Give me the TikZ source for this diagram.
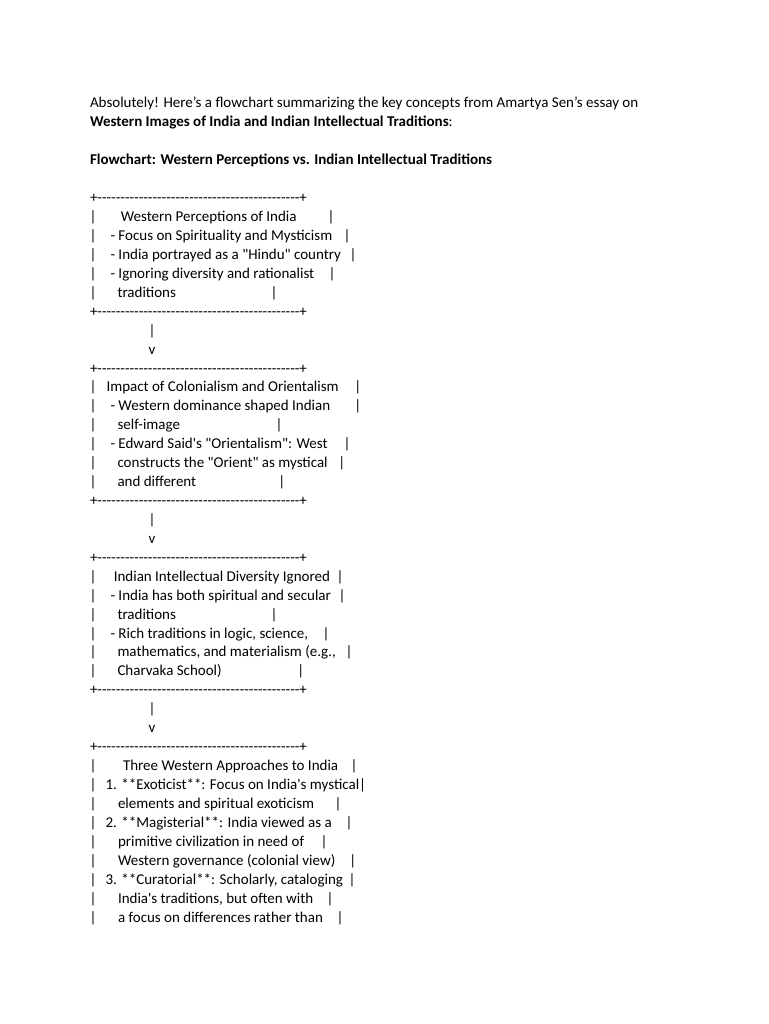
\documentclass[tikz,border=0pt]{standalone}
\usepackage{fontspec}
\setmainfont{Carlito}[Ligatures=TeXOff]
\newcounter{nn}
\tikzset{
  txt/.style={anchor=base west, inner sep=0pt, outer sep=0pt, text=black, font=\fontsize{15}{18}\selectfont},
  bar/.style={anchor=base, inner sep=0pt, outer sep=0pt, text=black, font=\fontsize{15}{18}\selectfont}
}
\newcommand\Tx[3]{\stepcounter{nn}\node[txt] (n\arabic{nn}) at (#2pt,{-108pt-18.93pt*#1}) {#3};}
\newcommand\Br[2]{\stepcounter{nn}\node[bar] (n\arabic{nn}) at (#2pt,{-108pt-18.93pt*#1}) {|};}
\newcommand\Vv[2]{\stepcounter{nn}\node[bar] (n\arabic{nn}) at (#2pt,{-108pt-18.93pt*#1}) {v};}
\newcommand\Bd[1]{\Tx{#1}{90}{+--------------------------------------------+}}
\newcommand\Ln[4]{\Br{#1}{93}\Tx{#1}{#2}{#3}\Br{#1}{#4}}
\begin{document}
\begin{tikzpicture}
\fill[white] (0,0) rectangle (768pt,-1024pt);
\useasboundingbox (0,0) rectangle (768pt,-1024pt);
\Tx{0}{90}{Absolutely! Here’s a flowchart summarizing the key concepts from Amartya Sen’s essay on}
\Tx{1}{90}{\textbf{Western Images of India and Indian Intellectual Traditions}:}
\Tx{3}{90}{\textbf{Flowchart: Western Perceptions vs. Indian Intellectual Traditions}}
% box 1
\Bd{5}
\Ln{6}{120.8}{Western Perceptions of India}{331}
\Ln{7}{110.5}{- Focus on Spirituality and Mysticism}{347}
\Ln{8}{110.5}{- India portrayed as a "Hindu" country}{353}
\Ln{9}{110.5}{- Ignoring diversity and rationalist}{332}
\Ln{10}{117.5}{traditions}{274}
\Bd{11}
\Br{12}{152}
\Vv{13}{152}
% box 2
\Bd{14}
\Ln{15}{106.5}{Impact of Colonialism and Orientalism}{357.7}
\Ln{16}{110.5}{- Western dominance shaped Indian}{357.7}
\Ln{17}{117.5}{self-image}{279}
\Ln{18}{110.5}{- Edward Said's "Orientalism": West}{347}
\Ln{19}{117.5}{constructs the "Orient" as mystical}{341.7}
\Ln{20}{117.5}{and different}{281.7}
\Bd{21}
\Br{22}{152}
\Vv{23}{152}
% box 3
\Bd{24}
\Ln{25}{113.8}{Indian Intellectual Diversity Ignored}{340}
\Ln{26}{110.5}{- India has both spiritual and secular}{342}
\Ln{27}{117.5}{traditions}{274}
\Ln{28}{110.5}{- Rich traditions in logic, science,}{326}
\Ln{29}{117.5}{mathematics, and materialism (e.g.,}{349}
\Ln{30}{117.5}{Charvaka School)}{300.7}
\Bd{31}
\Br{32}{152}
\Vv{33}{152}
% box 4
\Bd{34}
\Ln{35}{123}{Three Western Approaches to India}{354}
\Br{36}{93}\Tx{36}{105.5}{1. **Exoticist**: Focus on India's mystical|}
\Ln{37}{118}{elements and spiritual exoticism}{338}
\Ln{38}{105.5}{2. **Magisterial**: India viewed as a}{349}
\Ln{39}{118}{primitive civilization in need of}{324}
\Ln{40}{118}{Western governance (colonial view)}{352.7}
\Ln{41}{105.5}{3. **Curatorial**: Scholarly, cataloging}{352}
\Ln{42}{118}{India's traditions, but often with}{330}
\Ln{43}{118}{a focus on differences rather than}{340}
\end{tikzpicture}
\end{document}
